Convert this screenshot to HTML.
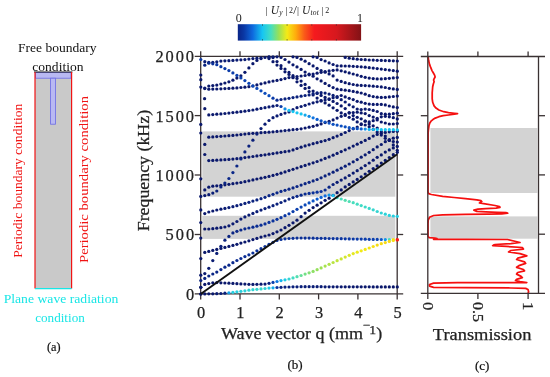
<!DOCTYPE html>
<html><head><meta charset="utf-8"><title>Figure</title>
<style>html,body{margin:0;padding:0;background:#fff}svg{display:block}</style></head>
<body>
<svg width="550" height="377" viewBox="0 0 550 377">
<defs><linearGradient id="cb" x1="0" x2="1" y1="0" y2="0"><stop offset="0%" stop-color="#0a2487"/><stop offset="5%" stop-color="#0a38a5"/><stop offset="12%" stop-color="#0e69de"/><stop offset="20%" stop-color="#16c6f2"/><stop offset="27%" stop-color="#46debe"/><stop offset="33%" stop-color="#96e05a"/><stop offset="40%" stop-color="#f4ea16"/><stop offset="47%" stop-color="#ffac0c"/><stop offset="54%" stop-color="#fa5a19"/><stop offset="62%" stop-color="#f51a1e"/><stop offset="80%" stop-color="#d7181e"/><stop offset="100%" stop-color="#821216"/></linearGradient></defs>
<rect width="550" height="377" fill="#fff"/>
<g font-family="'Liberation Serif', 'DejaVu Serif', serif">
<rect x="35" y="72" width="36.6" height="216.4" fill="#c9c9c9"/>
<rect x="35.6" y="72.6" width="35.4" height="5.6" fill="#b9b9f2" stroke="#6a6ae6" stroke-width="0.8"/>
<rect x="50.6" y="78.2" width="4.9" height="46" fill="#b9b9f2" stroke="#6a6ae6" stroke-width="0.8"/>
<line x1="34" y1="72" x2="72.4" y2="72" stroke="#111" stroke-width="1"/>
<line x1="35" y1="72" x2="35" y2="288.6" stroke="#f01414" stroke-width="1.2"/>
<line x1="71.6" y1="72" x2="71.6" y2="288.6" stroke="#f01414" stroke-width="1.2"/>
<line x1="35" y1="288.6" x2="71.6" y2="288.6" stroke="#19e6e6" stroke-width="1.2"/>
<text x="57.3" y="51.7" font-size="13.4" text-anchor="middle" fill="#111" textLength="78.7" lengthAdjust="spacingAndGlyphs">Free boundary</text>
<text x="57.9" y="71.4" font-size="13.4" text-anchor="middle" fill="#111" textLength="51.2" lengthAdjust="spacingAndGlyphs">condition</text>
<text transform="translate(21.6,180.8) rotate(-90)" font-size="12.2" text-anchor="middle" fill="#f01414" textLength="154" lengthAdjust="spacingAndGlyphs">Periodic boundary condition</text>
<text transform="translate(88.0,179.5) rotate(-90)" font-size="13" text-anchor="middle" fill="#f01414" textLength="167" lengthAdjust="spacingAndGlyphs">Periodic boundary condition</text>
<text x="61" y="302.9" font-size="13.4" text-anchor="middle" fill="#19e6e6" textLength="114.7" lengthAdjust="spacingAndGlyphs">Plane wave radiation</text>
<text x="60" y="321.8" font-size="13.4" text-anchor="middle" fill="#19e6e6" textLength="49.7" lengthAdjust="spacingAndGlyphs">condition</text>
<text x="46.9" y="351.4" font-size="12.5" fill="#111" stroke="#111" stroke-width="0.2" textLength="13.6" lengthAdjust="spacingAndGlyphs">(a)</text>
<text x="287.5" y="369.3" font-size="12.5" fill="#111" stroke="#111" stroke-width="0.2" textLength="15.2" lengthAdjust="spacingAndGlyphs">(b)</text>
<text x="475" y="369.7" font-size="12.5" fill="#111" stroke="#111" stroke-width="0.2" textLength="14.4" lengthAdjust="spacingAndGlyphs">(c)</text>
</g>
<rect x="237.8" y="24.2" width="123.3" height="16.4" fill="url(#cb)"/>
<line x1="262.5" y1="24.2" x2="262.5" y2="25.8" stroke="#333" stroke-width="0.6"/>
<line x1="262.5" y1="39" x2="262.5" y2="40.6" stroke="#333" stroke-width="0.6"/>
<line x1="287.1" y1="24.2" x2="287.1" y2="25.8" stroke="#333" stroke-width="0.6"/>
<line x1="287.1" y1="39" x2="287.1" y2="40.6" stroke="#333" stroke-width="0.6"/>
<line x1="311.8" y1="24.2" x2="311.8" y2="25.8" stroke="#333" stroke-width="0.6"/>
<line x1="311.8" y1="39" x2="311.8" y2="40.6" stroke="#333" stroke-width="0.6"/>
<line x1="336.4" y1="24.2" x2="336.4" y2="25.8" stroke="#333" stroke-width="0.6"/>
<line x1="336.4" y1="39" x2="336.4" y2="40.6" stroke="#333" stroke-width="0.6"/>
<g font-family="'Liberation Serif', serif" fill="#222">
<text x="238.7" y="21.7" font-size="12" text-anchor="middle">0</text>
<text x="359.9" y="22.1" font-size="12" text-anchor="middle">1</text>
<text x="265.8" y="13.9" font-size="10" textLength="63.4" lengthAdjust="spacing">| <tspan font-style="italic" font-size="11.5">U</tspan><tspan font-style="italic" font-size="7.5" dy="1.2">y</tspan><tspan dy="-1.2"> |</tspan><tspan font-size="8" dy="-1.3" dx="-1"> 2</tspan><tspan dy="1.7" font-size="13">/</tspan><tspan dy="-0.4">| </tspan><tspan font-style="italic" font-size="11.5">U</tspan><tspan font-style="italic" font-size="7.5" dy="1.2">tot</tspan><tspan dy="-1.2"> |</tspan><tspan font-size="8" dy="-1.3" dx="-1"> 2</tspan></text>
</g>
<rect x="202.3" y="131.4" width="193.0" height="65.3" fill="#d3d3d3"/>
<rect x="202.3" y="215.8" width="193.0" height="23.1" fill="#d3d3d3"/>
<g stroke="#3a3233" stroke-width="1.3" fill="none">
<line x1="200.7" y1="55.699999999999996" x2="200.7" y2="299.4"/>
<line x1="397.2" y1="51.3" x2="397.2" y2="299.4"/>
<line x1="194.7" y1="56.3" x2="403.2" y2="56.3"/>
<line x1="194.7" y1="293.9" x2="403.2" y2="293.9"/>
<line x1="240.0" y1="51.3" x2="240.0" y2="56.3"/>
<line x1="240.0" y1="293.9" x2="240.0" y2="299.4"/>
<line x1="279.3" y1="51.3" x2="279.3" y2="56.3"/>
<line x1="279.3" y1="293.9" x2="279.3" y2="299.4"/>
<line x1="318.6" y1="51.3" x2="318.6" y2="56.3"/>
<line x1="318.6" y1="293.9" x2="318.6" y2="299.4"/>
<line x1="357.9" y1="51.3" x2="357.9" y2="56.3"/>
<line x1="357.9" y1="293.9" x2="357.9" y2="299.4"/>
<line x1="200.7" y1="51.3" x2="200.7" y2="56.3"/>
<line x1="194.7" y1="234.5" x2="200.7" y2="234.5"/>
<line x1="397.2" y1="234.5" x2="403.2" y2="234.5"/>
<line x1="194.7" y1="175.0" x2="200.7" y2="175.0"/>
<line x1="397.2" y1="175.0" x2="403.2" y2="175.0"/>
<line x1="194.7" y1="115.6" x2="200.7" y2="115.6"/>
<line x1="397.2" y1="115.6" x2="403.2" y2="115.6"/>
</g>
<circle cx="200.8" cy="294.0" r="1.62" fill="#091668"/>
<circle cx="200.8" cy="287.3" r="1.62" fill="#091668"/>
<circle cx="397.3" cy="286.9" r="1.62" fill="#091668"/>
<circle cx="200.8" cy="294.0" r="1.62" fill="#091668"/>
<circle cx="204.8" cy="284.4" r="1.62" fill="#091669"/>
<circle cx="393.3" cy="286.9" r="1.62" fill="#091669"/>
<circle cx="208.8" cy="283.6" r="1.62" fill="#091769"/>
<circle cx="389.3" cy="286.9" r="1.62" fill="#091769"/>
<circle cx="385.3" cy="286.9" r="1.62" fill="#091769"/>
<circle cx="212.8" cy="282.8" r="1.62" fill="#091769"/>
<circle cx="381.3" cy="286.9" r="1.62" fill="#09176a"/>
<circle cx="216.8" cy="282.6" r="1.62" fill="#09176a"/>
<circle cx="204.8" cy="293.9" r="1.62" fill="#09176a"/>
<circle cx="377.2" cy="286.9" r="1.62" fill="#09176a"/>
<circle cx="220.9" cy="282.8" r="1.62" fill="#09176a"/>
<circle cx="373.2" cy="286.9" r="1.62" fill="#0a176b"/>
<circle cx="224.9" cy="283.0" r="1.62" fill="#0a176b"/>
<circle cx="369.2" cy="286.8" r="1.62" fill="#0a186b"/>
<circle cx="228.9" cy="283.2" r="1.62" fill="#0a186b"/>
<circle cx="365.2" cy="286.8" r="1.62" fill="#0a186b"/>
<circle cx="361.2" cy="286.8" r="1.62" fill="#0a186c"/>
<circle cx="232.9" cy="283.4" r="1.62" fill="#0a186c"/>
<circle cx="200.8" cy="258.6" r="1.62" fill="#0a186c"/>
<circle cx="204.8" cy="252.4" r="1.62" fill="#0a186c"/>
<circle cx="208.8" cy="251.4" r="1.62" fill="#0a186c"/>
<circle cx="212.8" cy="250.4" r="1.62" fill="#0a186c"/>
<circle cx="216.8" cy="249.4" r="1.62" fill="#0a186c"/>
<circle cx="220.9" cy="248.4" r="1.62" fill="#0a186c"/>
<circle cx="224.9" cy="247.4" r="1.62" fill="#0a186c"/>
<circle cx="228.9" cy="246.4" r="1.62" fill="#0a186c"/>
<circle cx="232.9" cy="245.4" r="1.62" fill="#0a186c"/>
<circle cx="236.9" cy="244.3" r="1.62" fill="#0a186c"/>
<circle cx="240.9" cy="243.1" r="1.62" fill="#0a186c"/>
<circle cx="244.9" cy="242.0" r="1.62" fill="#0a186c"/>
<circle cx="248.9" cy="240.8" r="1.62" fill="#0a186c"/>
<circle cx="252.9" cy="239.6" r="1.62" fill="#0a186c"/>
<circle cx="256.9" cy="238.4" r="1.62" fill="#0a186c"/>
<circle cx="261.0" cy="237.1" r="1.62" fill="#0a186c"/>
<circle cx="265.0" cy="236.0" r="1.62" fill="#0a186c"/>
<circle cx="269.0" cy="235.0" r="1.62" fill="#0a186c"/>
<circle cx="273.0" cy="233.6" r="1.62" fill="#0a186c"/>
<circle cx="277.0" cy="231.8" r="1.62" fill="#0a186c"/>
<circle cx="281.0" cy="230.0" r="1.62" fill="#0a186c"/>
<circle cx="285.0" cy="227.7" r="1.62" fill="#0a186c"/>
<circle cx="289.0" cy="225.3" r="1.62" fill="#0a186c"/>
<circle cx="293.0" cy="222.8" r="1.62" fill="#0a186c"/>
<circle cx="297.0" cy="220.2" r="1.62" fill="#0a186c"/>
<circle cx="301.1" cy="216.7" r="1.62" fill="#0a186c"/>
<circle cx="305.1" cy="213.1" r="1.62" fill="#0a186c"/>
<circle cx="309.1" cy="210.3" r="1.62" fill="#0a186c"/>
<circle cx="313.1" cy="207.6" r="1.62" fill="#0a186c"/>
<circle cx="317.1" cy="205.2" r="1.62" fill="#0a186c"/>
<circle cx="321.1" cy="202.8" r="1.62" fill="#0a186c"/>
<circle cx="325.1" cy="200.3" r="1.62" fill="#0a186c"/>
<circle cx="329.1" cy="198.2" r="1.62" fill="#0a186c"/>
<circle cx="333.1" cy="195.3" r="1.62" fill="#0a186c"/>
<circle cx="337.1" cy="192.7" r="1.62" fill="#0a186c"/>
<circle cx="341.2" cy="189.9" r="1.62" fill="#0a186c"/>
<circle cx="345.2" cy="186.9" r="1.62" fill="#0a186c"/>
<circle cx="349.2" cy="184.4" r="1.62" fill="#0a186c"/>
<circle cx="353.2" cy="181.9" r="1.62" fill="#0a186c"/>
<circle cx="357.2" cy="179.4" r="1.62" fill="#0a186c"/>
<circle cx="361.2" cy="176.8" r="1.62" fill="#0a186c"/>
<circle cx="365.2" cy="174.1" r="1.62" fill="#0a186c"/>
<circle cx="369.2" cy="171.3" r="1.62" fill="#0a186c"/>
<circle cx="373.2" cy="168.6" r="1.62" fill="#0a186c"/>
<circle cx="377.2" cy="165.9" r="1.62" fill="#0a186c"/>
<circle cx="381.3" cy="163.1" r="1.62" fill="#0a186c"/>
<circle cx="385.3" cy="160.4" r="1.62" fill="#0a186c"/>
<circle cx="389.3" cy="157.5" r="1.62" fill="#0a186c"/>
<circle cx="393.3" cy="154.7" r="1.62" fill="#0a186c"/>
<circle cx="397.3" cy="152.3" r="1.62" fill="#0a186c"/>
<circle cx="204.8" cy="189.9" r="1.62" fill="#0a186c"/>
<circle cx="208.8" cy="187.2" r="1.62" fill="#0a186c"/>
<circle cx="212.8" cy="186.2" r="1.62" fill="#0a186c"/>
<circle cx="216.8" cy="185.8" r="1.62" fill="#0a186c"/>
<circle cx="220.9" cy="185.3" r="1.62" fill="#0a186c"/>
<circle cx="224.9" cy="184.8" r="1.62" fill="#0a186c"/>
<circle cx="228.9" cy="184.3" r="1.62" fill="#0a186c"/>
<circle cx="232.9" cy="183.7" r="1.62" fill="#0a186c"/>
<circle cx="236.9" cy="183.1" r="1.62" fill="#0a186c"/>
<circle cx="240.9" cy="182.5" r="1.62" fill="#0a186c"/>
<circle cx="244.9" cy="181.7" r="1.62" fill="#0a186c"/>
<circle cx="248.9" cy="180.8" r="1.62" fill="#0a186c"/>
<circle cx="252.9" cy="179.9" r="1.62" fill="#0a186c"/>
<circle cx="256.9" cy="179.0" r="1.62" fill="#0a186c"/>
<circle cx="261.0" cy="178.2" r="1.62" fill="#0a186c"/>
<circle cx="265.0" cy="177.3" r="1.62" fill="#0a186c"/>
<circle cx="269.0" cy="176.4" r="1.62" fill="#0a186c"/>
<circle cx="273.0" cy="175.4" r="1.62" fill="#0a186c"/>
<circle cx="277.0" cy="174.3" r="1.62" fill="#0a186c"/>
<circle cx="281.0" cy="173.2" r="1.62" fill="#0a186c"/>
<circle cx="285.0" cy="171.9" r="1.62" fill="#0a186c"/>
<circle cx="289.0" cy="170.6" r="1.62" fill="#0a186c"/>
<circle cx="293.0" cy="169.3" r="1.62" fill="#0a186c"/>
<circle cx="297.0" cy="168.0" r="1.62" fill="#0a186c"/>
<circle cx="301.1" cy="166.7" r="1.62" fill="#0a186c"/>
<circle cx="305.1" cy="165.4" r="1.62" fill="#0a186c"/>
<circle cx="309.1" cy="164.1" r="1.62" fill="#0a186c"/>
<circle cx="313.1" cy="162.8" r="1.62" fill="#0a186c"/>
<circle cx="317.1" cy="161.5" r="1.62" fill="#0a186c"/>
<circle cx="321.1" cy="160.0" r="1.62" fill="#0a186c"/>
<circle cx="325.1" cy="158.4" r="1.62" fill="#0a186c"/>
<circle cx="329.1" cy="156.9" r="1.62" fill="#0a186c"/>
<circle cx="333.1" cy="155.2" r="1.62" fill="#0a186c"/>
<circle cx="337.1" cy="153.4" r="1.62" fill="#0a186c"/>
<circle cx="341.2" cy="151.6" r="1.62" fill="#0a186c"/>
<circle cx="345.2" cy="149.8" r="1.62" fill="#0a186c"/>
<circle cx="349.2" cy="148.0" r="1.62" fill="#0a186c"/>
<circle cx="353.2" cy="146.1" r="1.62" fill="#0a186c"/>
<circle cx="357.2" cy="144.2" r="1.62" fill="#0a186c"/>
<circle cx="361.2" cy="142.3" r="1.62" fill="#0a186c"/>
<circle cx="365.2" cy="140.4" r="1.62" fill="#0a186c"/>
<circle cx="369.2" cy="138.4" r="1.62" fill="#0a186c"/>
<circle cx="373.2" cy="136.1" r="1.62" fill="#0a186c"/>
<circle cx="377.2" cy="134.4" r="1.62" fill="#0a186c"/>
<circle cx="381.3" cy="133.3" r="1.62" fill="#0a186c"/>
<circle cx="385.3" cy="132.4" r="1.62" fill="#0a186c"/>
<circle cx="389.3" cy="131.8" r="1.62" fill="#0a186c"/>
<circle cx="393.3" cy="131.5" r="1.62" fill="#0a186c"/>
<circle cx="397.3" cy="131.3" r="1.62" fill="#0a186c"/>
<circle cx="204.8" cy="154.5" r="1.62" fill="#0a186c"/>
<circle cx="208.8" cy="160.6" r="1.62" fill="#0a186c"/>
<circle cx="212.8" cy="160.4" r="1.62" fill="#0a186c"/>
<circle cx="216.8" cy="160.2" r="1.62" fill="#0a186c"/>
<circle cx="220.9" cy="159.9" r="1.62" fill="#0a186c"/>
<circle cx="224.9" cy="159.7" r="1.62" fill="#0a186c"/>
<circle cx="228.9" cy="159.4" r="1.62" fill="#0a186c"/>
<circle cx="232.9" cy="159.1" r="1.62" fill="#0a186c"/>
<circle cx="236.9" cy="158.7" r="1.62" fill="#0a186c"/>
<circle cx="240.9" cy="158.1" r="1.62" fill="#0a186c"/>
<circle cx="244.9" cy="157.6" r="1.62" fill="#0a186c"/>
<circle cx="248.9" cy="157.1" r="1.62" fill="#0a186c"/>
<circle cx="252.9" cy="156.5" r="1.62" fill="#0a186c"/>
<circle cx="256.9" cy="155.9" r="1.62" fill="#0a186c"/>
<circle cx="261.0" cy="155.3" r="1.62" fill="#0a186c"/>
<circle cx="265.0" cy="154.8" r="1.62" fill="#0a186c"/>
<circle cx="269.0" cy="154.2" r="1.62" fill="#0a186c"/>
<circle cx="273.0" cy="153.6" r="1.62" fill="#0a186c"/>
<circle cx="277.0" cy="152.9" r="1.62" fill="#0a186c"/>
<circle cx="281.0" cy="152.3" r="1.62" fill="#0a186c"/>
<circle cx="285.0" cy="151.7" r="1.62" fill="#0a186c"/>
<circle cx="289.0" cy="151.1" r="1.62" fill="#0a186c"/>
<circle cx="293.0" cy="149.9" r="1.62" fill="#0a186c"/>
<circle cx="297.0" cy="148.5" r="1.62" fill="#0a186c"/>
<circle cx="301.1" cy="147.2" r="1.62" fill="#0a186c"/>
<circle cx="305.1" cy="145.9" r="1.62" fill="#0a186c"/>
<circle cx="309.1" cy="144.8" r="1.62" fill="#0a186c"/>
<circle cx="313.1" cy="143.7" r="1.62" fill="#0a186c"/>
<circle cx="317.1" cy="142.7" r="1.62" fill="#0a186c"/>
<circle cx="321.1" cy="141.6" r="1.62" fill="#0a186c"/>
<circle cx="325.1" cy="140.6" r="1.62" fill="#0a186c"/>
<circle cx="329.1" cy="139.3" r="1.62" fill="#0a186c"/>
<circle cx="333.1" cy="137.7" r="1.62" fill="#0a186c"/>
<circle cx="337.1" cy="136.1" r="1.62" fill="#0a186c"/>
<circle cx="341.2" cy="134.4" r="1.62" fill="#0a186c"/>
<circle cx="345.2" cy="132.5" r="1.62" fill="#0a186c"/>
<circle cx="349.2" cy="130.6" r="1.62" fill="#0a186c"/>
<circle cx="353.2" cy="128.8" r="1.62" fill="#0a186c"/>
<circle cx="357.2" cy="127.0" r="1.62" fill="#0a186c"/>
<circle cx="361.2" cy="124.6" r="1.62" fill="#0a186c"/>
<circle cx="365.2" cy="121.2" r="1.62" fill="#0a186c"/>
<circle cx="369.2" cy="121.9" r="1.62" fill="#0a186c"/>
<circle cx="373.2" cy="120.7" r="1.62" fill="#0a186c"/>
<circle cx="377.2" cy="119.9" r="1.62" fill="#0a186c"/>
<circle cx="381.3" cy="122.0" r="1.62" fill="#0a186c"/>
<circle cx="385.3" cy="123.0" r="1.62" fill="#0a186c"/>
<circle cx="389.3" cy="124.0" r="1.62" fill="#0a186c"/>
<circle cx="393.3" cy="124.0" r="1.62" fill="#0a186c"/>
<circle cx="397.3" cy="123.5" r="1.62" fill="#0a186c"/>
<circle cx="204.8" cy="144.4" r="1.62" fill="#0a186c"/>
<circle cx="208.8" cy="137.2" r="1.62" fill="#0a186c"/>
<circle cx="212.8" cy="136.9" r="1.62" fill="#0a186c"/>
<circle cx="216.8" cy="136.6" r="1.62" fill="#0a186c"/>
<circle cx="220.9" cy="136.3" r="1.62" fill="#0a186c"/>
<circle cx="224.9" cy="136.0" r="1.62" fill="#0a186c"/>
<circle cx="228.9" cy="135.7" r="1.62" fill="#0a186c"/>
<circle cx="232.9" cy="135.4" r="1.62" fill="#0a186c"/>
<circle cx="236.9" cy="135.0" r="1.62" fill="#0a186c"/>
<circle cx="240.9" cy="134.6" r="1.62" fill="#0a186c"/>
<circle cx="244.9" cy="134.1" r="1.62" fill="#0a186c"/>
<circle cx="248.9" cy="133.7" r="1.62" fill="#0a186c"/>
<circle cx="252.9" cy="133.3" r="1.62" fill="#0a186c"/>
<circle cx="256.9" cy="133.0" r="1.62" fill="#0a186c"/>
<circle cx="261.0" cy="132.7" r="1.62" fill="#0a186c"/>
<circle cx="265.0" cy="132.4" r="1.62" fill="#0a186c"/>
<circle cx="269.0" cy="132.2" r="1.62" fill="#0a186c"/>
<circle cx="273.0" cy="131.8" r="1.62" fill="#0a186c"/>
<circle cx="277.0" cy="131.4" r="1.62" fill="#0a186c"/>
<circle cx="281.0" cy="131.0" r="1.62" fill="#0a186c"/>
<circle cx="285.0" cy="130.6" r="1.62" fill="#0a186c"/>
<circle cx="289.0" cy="130.2" r="1.62" fill="#0a186c"/>
<circle cx="293.0" cy="129.7" r="1.62" fill="#0a186c"/>
<circle cx="297.0" cy="129.3" r="1.62" fill="#0a186c"/>
<circle cx="301.1" cy="128.8" r="1.62" fill="#0a186c"/>
<circle cx="305.1" cy="128.0" r="1.62" fill="#0a186c"/>
<circle cx="309.1" cy="127.2" r="1.62" fill="#0a186c"/>
<circle cx="313.1" cy="126.3" r="1.62" fill="#0a186c"/>
<circle cx="317.1" cy="125.2" r="1.62" fill="#0a186c"/>
<circle cx="321.1" cy="123.9" r="1.62" fill="#0a186c"/>
<circle cx="325.1" cy="122.6" r="1.62" fill="#0a186c"/>
<circle cx="329.1" cy="121.3" r="1.62" fill="#0a186c"/>
<circle cx="333.1" cy="119.9" r="1.62" fill="#0a186c"/>
<circle cx="337.1" cy="118.1" r="1.62" fill="#0a186c"/>
<circle cx="341.2" cy="116.3" r="1.62" fill="#0a186c"/>
<circle cx="345.2" cy="114.4" r="1.62" fill="#0a186c"/>
<circle cx="349.2" cy="112.5" r="1.62" fill="#0a186c"/>
<circle cx="353.2" cy="112.6" r="1.62" fill="#0a186c"/>
<circle cx="357.2" cy="112.2" r="1.62" fill="#0a186c"/>
<circle cx="361.2" cy="112.9" r="1.62" fill="#0a186c"/>
<circle cx="365.2" cy="113.6" r="1.62" fill="#0a186c"/>
<circle cx="369.2" cy="115.6" r="1.62" fill="#0a186c"/>
<circle cx="373.2" cy="117.1" r="1.62" fill="#0a186c"/>
<circle cx="377.2" cy="118.3" r="1.62" fill="#0a186c"/>
<circle cx="381.3" cy="116.8" r="1.62" fill="#0a186c"/>
<circle cx="385.3" cy="116.3" r="1.62" fill="#0a186c"/>
<circle cx="389.3" cy="116.8" r="1.62" fill="#0a186c"/>
<circle cx="393.3" cy="117.7" r="1.62" fill="#0a186c"/>
<circle cx="397.3" cy="118.9" r="1.62" fill="#0a186c"/>
<circle cx="200.8" cy="87.1" r="1.62" fill="#0a186c"/>
<circle cx="204.8" cy="88.0" r="1.62" fill="#0a186c"/>
<circle cx="208.8" cy="86.0" r="1.62" fill="#0a186c"/>
<circle cx="212.8" cy="85.6" r="1.62" fill="#0a186c"/>
<circle cx="216.8" cy="85.1" r="1.62" fill="#0a186c"/>
<circle cx="220.9" cy="84.1" r="1.62" fill="#0a186c"/>
<circle cx="224.9" cy="83.0" r="1.62" fill="#0a186c"/>
<circle cx="228.9" cy="81.8" r="1.62" fill="#0a186c"/>
<circle cx="232.9" cy="80.2" r="1.62" fill="#0a186c"/>
<circle cx="236.9" cy="78.1" r="1.62" fill="#0a186c"/>
<circle cx="240.9" cy="75.8" r="1.62" fill="#0a186c"/>
<circle cx="244.9" cy="72.3" r="1.62" fill="#0a186c"/>
<circle cx="248.9" cy="67.9" r="1.62" fill="#0a186c"/>
<circle cx="252.9" cy="63.7" r="1.62" fill="#0a186c"/>
<circle cx="256.9" cy="60.4" r="1.62" fill="#0a186c"/>
<circle cx="261.0" cy="58.6" r="1.62" fill="#0a186c"/>
<circle cx="204.8" cy="88.6" r="1.62" fill="#0a186c"/>
<circle cx="208.8" cy="89.2" r="1.62" fill="#0a186c"/>
<circle cx="212.8" cy="89.1" r="1.62" fill="#0a186c"/>
<circle cx="216.8" cy="89.0" r="1.62" fill="#0a186c"/>
<circle cx="220.9" cy="88.8" r="1.62" fill="#0a186c"/>
<circle cx="224.9" cy="88.6" r="1.62" fill="#0a186c"/>
<circle cx="228.9" cy="88.4" r="1.62" fill="#0a186c"/>
<circle cx="232.9" cy="88.2" r="1.62" fill="#0a186c"/>
<circle cx="236.9" cy="87.9" r="1.62" fill="#0a186c"/>
<circle cx="240.9" cy="87.5" r="1.62" fill="#0a186c"/>
<circle cx="244.9" cy="87.2" r="1.62" fill="#0a186c"/>
<circle cx="248.9" cy="86.7" r="1.62" fill="#0a186c"/>
<circle cx="252.9" cy="86.0" r="1.62" fill="#0a186c"/>
<circle cx="256.9" cy="84.9" r="1.62" fill="#0a186c"/>
<circle cx="261.0" cy="83.8" r="1.62" fill="#0a186c"/>
<circle cx="265.0" cy="82.9" r="1.62" fill="#0a186c"/>
<circle cx="269.0" cy="81.9" r="1.62" fill="#0a186c"/>
<circle cx="273.0" cy="81.1" r="1.62" fill="#0a186c"/>
<circle cx="277.0" cy="80.4" r="1.62" fill="#0a186c"/>
<circle cx="281.0" cy="79.6" r="1.62" fill="#0a186c"/>
<circle cx="285.0" cy="78.6" r="1.62" fill="#0a186c"/>
<circle cx="289.0" cy="77.6" r="1.62" fill="#0a186c"/>
<circle cx="293.0" cy="77.1" r="1.62" fill="#0a186c"/>
<circle cx="297.0" cy="76.6" r="1.62" fill="#0a186c"/>
<circle cx="301.1" cy="76.0" r="1.62" fill="#0a186c"/>
<circle cx="305.1" cy="75.5" r="1.62" fill="#0a186c"/>
<circle cx="309.1" cy="74.8" r="1.62" fill="#0a186c"/>
<circle cx="313.1" cy="74.0" r="1.62" fill="#0a186c"/>
<circle cx="317.1" cy="73.2" r="1.62" fill="#0a186c"/>
<circle cx="321.1" cy="72.3" r="1.62" fill="#0a186c"/>
<circle cx="325.1" cy="71.6" r="1.62" fill="#0a186c"/>
<circle cx="329.1" cy="70.9" r="1.62" fill="#0a186c"/>
<circle cx="333.1" cy="70.3" r="1.62" fill="#0a186c"/>
<circle cx="337.1" cy="69.9" r="1.62" fill="#0a186c"/>
<circle cx="341.2" cy="70.8" r="1.62" fill="#0a186c"/>
<circle cx="345.2" cy="71.8" r="1.62" fill="#0a186c"/>
<circle cx="349.2" cy="72.9" r="1.62" fill="#0a186c"/>
<circle cx="353.2" cy="74.0" r="1.62" fill="#0a186c"/>
<circle cx="357.2" cy="75.1" r="1.62" fill="#0a186c"/>
<circle cx="361.2" cy="76.3" r="1.62" fill="#0a186c"/>
<circle cx="365.2" cy="77.3" r="1.62" fill="#0a186c"/>
<circle cx="369.2" cy="78.1" r="1.62" fill="#0a186c"/>
<circle cx="373.2" cy="78.6" r="1.62" fill="#0a186c"/>
<circle cx="377.2" cy="78.9" r="1.62" fill="#0a186c"/>
<circle cx="381.3" cy="78.9" r="1.62" fill="#0a186c"/>
<circle cx="385.3" cy="78.7" r="1.62" fill="#0a186c"/>
<circle cx="389.3" cy="78.3" r="1.62" fill="#0a186c"/>
<circle cx="393.3" cy="77.9" r="1.62" fill="#0a186c"/>
<circle cx="397.3" cy="77.5" r="1.62" fill="#0a186c"/>
<circle cx="269.0" cy="56.8" r="1.62" fill="#0a186c"/>
<circle cx="273.0" cy="57.6" r="1.62" fill="#0a186c"/>
<circle cx="277.0" cy="61.6" r="1.62" fill="#0a186c"/>
<circle cx="281.0" cy="65.7" r="1.62" fill="#0a186c"/>
<circle cx="285.0" cy="69.0" r="1.62" fill="#0a186c"/>
<circle cx="289.0" cy="72.4" r="1.62" fill="#0a186c"/>
<circle cx="293.0" cy="75.7" r="1.62" fill="#0a186c"/>
<circle cx="297.0" cy="78.5" r="1.62" fill="#0a186c"/>
<circle cx="301.1" cy="81.1" r="1.62" fill="#0a186c"/>
<circle cx="305.1" cy="84.4" r="1.62" fill="#0a186c"/>
<circle cx="309.1" cy="87.7" r="1.62" fill="#0a186c"/>
<circle cx="313.1" cy="91.0" r="1.62" fill="#0a186c"/>
<circle cx="317.1" cy="93.4" r="1.62" fill="#0a186c"/>
<circle cx="321.1" cy="95.4" r="1.62" fill="#0a186c"/>
<circle cx="325.1" cy="97.4" r="1.62" fill="#0a186c"/>
<circle cx="329.1" cy="99.5" r="1.62" fill="#0a186c"/>
<circle cx="333.1" cy="101.4" r="1.62" fill="#0a186c"/>
<circle cx="337.1" cy="103.5" r="1.62" fill="#0a186c"/>
<circle cx="341.2" cy="105.9" r="1.62" fill="#0a186c"/>
<circle cx="345.2" cy="108.6" r="1.62" fill="#0a186c"/>
<circle cx="349.2" cy="113.1" r="1.62" fill="#0a186c"/>
<circle cx="353.2" cy="115.6" r="1.62" fill="#0a186c"/>
<circle cx="357.2" cy="117.3" r="1.62" fill="#0a186c"/>
<circle cx="361.2" cy="118.8" r="1.62" fill="#0a186c"/>
<circle cx="365.2" cy="121.1" r="1.62" fill="#0a186c"/>
<circle cx="369.2" cy="124.1" r="1.62" fill="#0a186c"/>
<circle cx="373.2" cy="125.8" r="1.62" fill="#0a186c"/>
<circle cx="377.2" cy="128.1" r="1.62" fill="#0a186c"/>
<circle cx="381.3" cy="131.7" r="1.62" fill="#0a186c"/>
<circle cx="385.3" cy="136.0" r="1.62" fill="#0a186c"/>
<circle cx="389.3" cy="140.3" r="1.62" fill="#0a186c"/>
<circle cx="393.3" cy="144.9" r="1.62" fill="#0a186c"/>
<circle cx="397.3" cy="150.3" r="1.62" fill="#0a186c"/>
<circle cx="269.0" cy="58.6" r="1.62" fill="#0a186c"/>
<circle cx="273.0" cy="61.7" r="1.62" fill="#0a186c"/>
<circle cx="277.0" cy="65.1" r="1.62" fill="#0a186c"/>
<circle cx="281.0" cy="68.4" r="1.62" fill="#0a186c"/>
<circle cx="285.0" cy="71.8" r="1.62" fill="#0a186c"/>
<circle cx="289.0" cy="74.5" r="1.62" fill="#0a186c"/>
<circle cx="293.0" cy="77.7" r="1.62" fill="#0a186c"/>
<circle cx="297.0" cy="81.8" r="1.62" fill="#0a186c"/>
<circle cx="301.1" cy="85.4" r="1.62" fill="#0a186c"/>
<circle cx="305.1" cy="88.4" r="1.62" fill="#0a186c"/>
<circle cx="309.1" cy="91.6" r="1.62" fill="#0a186c"/>
<circle cx="313.1" cy="95.0" r="1.62" fill="#0a186c"/>
<circle cx="317.1" cy="98.1" r="1.62" fill="#0a186c"/>
<circle cx="321.1" cy="100.7" r="1.62" fill="#0a186c"/>
<circle cx="325.1" cy="102.9" r="1.62" fill="#0a186c"/>
<circle cx="329.1" cy="105.2" r="1.62" fill="#0a186c"/>
<circle cx="333.1" cy="107.8" r="1.62" fill="#0a186c"/>
<circle cx="337.1" cy="110.3" r="1.62" fill="#0a186c"/>
<circle cx="341.2" cy="112.9" r="1.62" fill="#0a186c"/>
<circle cx="345.2" cy="115.5" r="1.62" fill="#0a186c"/>
<circle cx="349.2" cy="117.3" r="1.62" fill="#0a186c"/>
<circle cx="353.2" cy="119.2" r="1.62" fill="#0a186c"/>
<circle cx="357.2" cy="121.9" r="1.62" fill="#0a186c"/>
<circle cx="361.2" cy="123.9" r="1.62" fill="#0a186c"/>
<circle cx="365.2" cy="125.0" r="1.62" fill="#0a186c"/>
<circle cx="369.2" cy="126.8" r="1.62" fill="#0a186c"/>
<circle cx="373.2" cy="129.4" r="1.62" fill="#0a186c"/>
<circle cx="377.2" cy="132.0" r="1.62" fill="#0a186c"/>
<circle cx="381.3" cy="135.1" r="1.62" fill="#0a186c"/>
<circle cx="385.3" cy="138.3" r="1.62" fill="#0a186c"/>
<circle cx="389.3" cy="140.4" r="1.62" fill="#0a186c"/>
<circle cx="393.3" cy="141.5" r="1.62" fill="#0a186c"/>
<circle cx="397.3" cy="142.0" r="1.62" fill="#0a186c"/>
<circle cx="277.0" cy="56.8" r="1.62" fill="#0a186c"/>
<circle cx="281.0" cy="57.5" r="1.62" fill="#0a186c"/>
<circle cx="285.0" cy="59.5" r="1.62" fill="#0a186c"/>
<circle cx="289.0" cy="62.1" r="1.62" fill="#0a186c"/>
<circle cx="293.0" cy="64.8" r="1.62" fill="#0a186c"/>
<circle cx="297.0" cy="66.9" r="1.62" fill="#0a186c"/>
<circle cx="301.1" cy="69.4" r="1.62" fill="#0a186c"/>
<circle cx="305.1" cy="72.1" r="1.62" fill="#0a186c"/>
<circle cx="309.1" cy="74.2" r="1.62" fill="#0a186c"/>
<circle cx="313.1" cy="76.2" r="1.62" fill="#0a186c"/>
<circle cx="317.1" cy="78.8" r="1.62" fill="#0a186c"/>
<circle cx="321.1" cy="80.9" r="1.62" fill="#0a186c"/>
<circle cx="325.1" cy="83.4" r="1.62" fill="#0a186c"/>
<circle cx="329.1" cy="85.6" r="1.62" fill="#0a186c"/>
<circle cx="333.1" cy="87.6" r="1.62" fill="#0a186c"/>
<circle cx="337.1" cy="89.2" r="1.62" fill="#0a186c"/>
<circle cx="341.2" cy="89.7" r="1.62" fill="#0a186c"/>
<circle cx="345.2" cy="90.2" r="1.62" fill="#0a186c"/>
<circle cx="349.2" cy="90.7" r="1.62" fill="#0a186c"/>
<circle cx="353.2" cy="91.4" r="1.62" fill="#0a186c"/>
<circle cx="357.2" cy="92.2" r="1.62" fill="#0a186c"/>
<circle cx="361.2" cy="93.0" r="1.62" fill="#0a186c"/>
<circle cx="365.2" cy="94.2" r="1.62" fill="#0a186c"/>
<circle cx="369.2" cy="95.7" r="1.62" fill="#0a186c"/>
<circle cx="373.2" cy="96.6" r="1.62" fill="#0a186c"/>
<circle cx="377.2" cy="97.2" r="1.62" fill="#0a186c"/>
<circle cx="381.3" cy="97.4" r="1.62" fill="#0a186c"/>
<circle cx="385.3" cy="97.3" r="1.62" fill="#0a186c"/>
<circle cx="389.3" cy="96.9" r="1.62" fill="#0a186c"/>
<circle cx="393.3" cy="96.5" r="1.62" fill="#0a186c"/>
<circle cx="397.3" cy="96.1" r="1.62" fill="#0a186c"/>
<circle cx="293.0" cy="56.8" r="1.62" fill="#0a186c"/>
<circle cx="297.0" cy="57.4" r="1.62" fill="#0a186c"/>
<circle cx="301.1" cy="59.2" r="1.62" fill="#0a186c"/>
<circle cx="305.1" cy="61.2" r="1.62" fill="#0a186c"/>
<circle cx="309.1" cy="63.7" r="1.62" fill="#0a186c"/>
<circle cx="313.1" cy="65.9" r="1.62" fill="#0a186c"/>
<circle cx="317.1" cy="68.4" r="1.62" fill="#0a186c"/>
<circle cx="321.1" cy="70.6" r="1.62" fill="#0a186c"/>
<circle cx="325.1" cy="72.2" r="1.62" fill="#0a186c"/>
<circle cx="329.1" cy="73.9" r="1.62" fill="#0a186c"/>
<circle cx="333.1" cy="75.9" r="1.62" fill="#0a186c"/>
<circle cx="337.1" cy="80.1" r="1.62" fill="#0a186c"/>
<circle cx="341.2" cy="81.4" r="1.62" fill="#0a186c"/>
<circle cx="345.2" cy="82.7" r="1.62" fill="#0a186c"/>
<circle cx="349.2" cy="83.7" r="1.62" fill="#0a186c"/>
<circle cx="353.2" cy="84.5" r="1.62" fill="#0a186c"/>
<circle cx="357.2" cy="85.2" r="1.62" fill="#0a186c"/>
<circle cx="361.2" cy="85.4" r="1.62" fill="#0a186c"/>
<circle cx="365.2" cy="85.6" r="1.62" fill="#0a186c"/>
<circle cx="369.2" cy="85.8" r="1.62" fill="#0a186c"/>
<circle cx="373.2" cy="86.2" r="1.62" fill="#0a186c"/>
<circle cx="377.2" cy="86.5" r="1.62" fill="#0a186c"/>
<circle cx="381.3" cy="86.9" r="1.62" fill="#0a186c"/>
<circle cx="385.3" cy="87.5" r="1.62" fill="#0a186c"/>
<circle cx="389.3" cy="88.3" r="1.62" fill="#0a186c"/>
<circle cx="393.3" cy="88.9" r="1.62" fill="#0a186c"/>
<circle cx="397.3" cy="89.4" r="1.62" fill="#0a186c"/>
<circle cx="313.1" cy="56.8" r="1.62" fill="#0a186c"/>
<circle cx="317.1" cy="57.5" r="1.62" fill="#0a186c"/>
<circle cx="321.1" cy="59.6" r="1.62" fill="#0a186c"/>
<circle cx="325.1" cy="61.0" r="1.62" fill="#0a186c"/>
<circle cx="329.1" cy="62.9" r="1.62" fill="#0a186c"/>
<circle cx="333.1" cy="64.5" r="1.62" fill="#0a186c"/>
<circle cx="337.1" cy="65.8" r="1.62" fill="#0a186c"/>
<circle cx="341.2" cy="65.9" r="1.62" fill="#0a186c"/>
<circle cx="345.2" cy="66.0" r="1.62" fill="#0a186c"/>
<circle cx="349.2" cy="66.1" r="1.62" fill="#0a186c"/>
<circle cx="353.2" cy="66.3" r="1.62" fill="#0a186c"/>
<circle cx="357.2" cy="66.6" r="1.62" fill="#0a186c"/>
<circle cx="361.2" cy="66.8" r="1.62" fill="#0a186c"/>
<circle cx="365.2" cy="67.2" r="1.62" fill="#0a186c"/>
<circle cx="369.2" cy="67.7" r="1.62" fill="#0a186c"/>
<circle cx="373.2" cy="68.1" r="1.62" fill="#0a186c"/>
<circle cx="377.2" cy="68.6" r="1.62" fill="#0a186c"/>
<circle cx="381.3" cy="69.1" r="1.62" fill="#0a186c"/>
<circle cx="385.3" cy="69.6" r="1.62" fill="#0a186c"/>
<circle cx="389.3" cy="70.1" r="1.62" fill="#0a186c"/>
<circle cx="393.3" cy="70.6" r="1.62" fill="#0a186c"/>
<circle cx="397.3" cy="71.2" r="1.62" fill="#0a186c"/>
<circle cx="345.2" cy="57.4" r="1.62" fill="#0a186c"/>
<circle cx="349.2" cy="58.2" r="1.62" fill="#0a186c"/>
<circle cx="353.2" cy="58.7" r="1.62" fill="#0a186c"/>
<circle cx="357.2" cy="59.2" r="1.62" fill="#0a186c"/>
<circle cx="361.2" cy="59.5" r="1.62" fill="#0a186c"/>
<circle cx="365.2" cy="59.7" r="1.62" fill="#0a186c"/>
<circle cx="369.2" cy="60.0" r="1.62" fill="#0a186c"/>
<circle cx="373.2" cy="60.1" r="1.62" fill="#0a186c"/>
<circle cx="377.2" cy="60.3" r="1.62" fill="#0a186c"/>
<circle cx="381.3" cy="60.4" r="1.62" fill="#0a186c"/>
<circle cx="385.3" cy="60.6" r="1.62" fill="#0a186c"/>
<circle cx="389.3" cy="60.7" r="1.62" fill="#0a186c"/>
<circle cx="393.3" cy="60.8" r="1.62" fill="#0a186c"/>
<circle cx="397.3" cy="61.0" r="1.62" fill="#0a186c"/>
<circle cx="200.8" cy="287.3" r="1.62" fill="#0a186c"/>
<circle cx="200.8" cy="222.6" r="1.62" fill="#0a186c"/>
<circle cx="200.8" cy="178.8" r="1.62" fill="#0a186c"/>
<circle cx="200.8" cy="124.4" r="1.62" fill="#0a186c"/>
<circle cx="200.8" cy="133.0" r="1.62" fill="#0a186c"/>
<circle cx="200.8" cy="75.0" r="1.62" fill="#0a186c"/>
<circle cx="200.8" cy="79.7" r="1.62" fill="#0a186c"/>
<circle cx="204.6" cy="98.7" r="1.62" fill="#0a186c"/>
<circle cx="397.3" cy="107.5" r="1.62" fill="#0a186c"/>
<circle cx="208.8" cy="293.8" r="1.62" fill="#0a186c"/>
<circle cx="397.3" cy="146.4" r="1.62" fill="#0a186c"/>
<circle cx="397.3" cy="113.2" r="1.62" fill="#0a186c"/>
<circle cx="200.8" cy="238.1" r="1.62" fill="#0a186c"/>
<circle cx="397.3" cy="137.4" r="1.62" fill="#0a186c"/>
<circle cx="200.8" cy="209.9" r="1.62" fill="#0a186c"/>
<circle cx="393.3" cy="106.9" r="1.62" fill="#0a186c"/>
<circle cx="200.8" cy="275.2" r="1.62" fill="#0a186c"/>
<circle cx="357.2" cy="286.8" r="1.62" fill="#0a186c"/>
<circle cx="204.8" cy="108.7" r="1.62" fill="#0a186c"/>
<circle cx="389.3" cy="106.0" r="1.62" fill="#0a186c"/>
<circle cx="200.8" cy="196.4" r="1.62" fill="#0a186c"/>
<circle cx="393.3" cy="147.9" r="1.62" fill="#0a186c"/>
<circle cx="393.3" cy="113.7" r="1.62" fill="#0a186c"/>
<circle cx="236.9" cy="283.7" r="1.62" fill="#0a186c"/>
<circle cx="385.3" cy="104.9" r="1.62" fill="#0a186c"/>
<circle cx="204.8" cy="229.0" r="1.62" fill="#0a186c"/>
<circle cx="208.8" cy="114.9" r="1.62" fill="#0a186c"/>
<circle cx="381.3" cy="104.4" r="1.62" fill="#0a186c"/>
<circle cx="393.3" cy="138.2" r="1.62" fill="#0a186c"/>
<circle cx="389.3" cy="149.9" r="1.62" fill="#0a186d"/>
<circle cx="389.3" cy="114.2" r="1.62" fill="#0a186d"/>
<circle cx="377.2" cy="104.4" r="1.62" fill="#0a186d"/>
<circle cx="353.2" cy="286.8" r="1.62" fill="#0a186d"/>
<circle cx="212.8" cy="114.6" r="1.62" fill="#0a186d"/>
<circle cx="204.8" cy="213.6" r="1.62" fill="#0a186d"/>
<circle cx="373.2" cy="104.4" r="1.62" fill="#0a186d"/>
<circle cx="208.8" cy="229.0" r="1.62" fill="#0a186d"/>
<circle cx="240.9" cy="283.9" r="1.62" fill="#0a186d"/>
<circle cx="385.3" cy="152.1" r="1.62" fill="#0a186d"/>
<circle cx="369.2" cy="104.1" r="1.62" fill="#0a186d"/>
<circle cx="216.8" cy="114.2" r="1.62" fill="#0a186d"/>
<circle cx="385.3" cy="114.2" r="1.62" fill="#0a186d"/>
<circle cx="389.3" cy="139.6" r="1.62" fill="#0a186d"/>
<circle cx="365.2" cy="103.3" r="1.62" fill="#0a186d"/>
<circle cx="349.2" cy="286.8" r="1.62" fill="#0a196d"/>
<circle cx="220.9" cy="113.9" r="1.62" fill="#0a196d"/>
<circle cx="381.3" cy="154.9" r="1.62" fill="#0a196d"/>
<circle cx="361.2" cy="102.2" r="1.62" fill="#0a196d"/>
<circle cx="212.8" cy="228.7" r="1.62" fill="#0a196d"/>
<circle cx="381.3" cy="113.7" r="1.62" fill="#0a196d"/>
<circle cx="357.2" cy="101.3" r="1.62" fill="#0a196d"/>
<circle cx="224.9" cy="113.5" r="1.62" fill="#0a196d"/>
<circle cx="244.9" cy="284.1" r="1.62" fill="#0a196d"/>
<circle cx="353.2" cy="99.6" r="1.62" fill="#0a196d"/>
<circle cx="208.8" cy="212.0" r="1.62" fill="#0a196d"/>
<circle cx="385.3" cy="141.7" r="1.62" fill="#0a196d"/>
<circle cx="377.2" cy="157.3" r="1.62" fill="#0a196d"/>
<circle cx="345.2" cy="286.8" r="1.62" fill="#0a196d"/>
<circle cx="204.8" cy="273.6" r="1.62" fill="#0a196d"/>
<circle cx="377.2" cy="111.5" r="1.62" fill="#0a196d"/>
<circle cx="349.2" cy="98.3" r="1.62" fill="#0a196d"/>
<circle cx="228.9" cy="113.1" r="1.62" fill="#0a196d"/>
<circle cx="216.8" cy="228.2" r="1.62" fill="#0a196d"/>
<circle cx="345.2" cy="96.9" r="1.62" fill="#0a196e"/>
<circle cx="373.2" cy="160.2" r="1.62" fill="#0a196e"/>
<circle cx="341.2" cy="95.5" r="1.62" fill="#0a196e"/>
<circle cx="232.9" cy="112.6" r="1.62" fill="#0a196e"/>
<circle cx="373.2" cy="110.4" r="1.62" fill="#0a196e"/>
<circle cx="381.3" cy="144.5" r="1.62" fill="#0a196e"/>
<circle cx="248.9" cy="284.3" r="1.62" fill="#0a196e"/>
<circle cx="337.1" cy="96.6" r="1.62" fill="#0a196e"/>
<circle cx="341.2" cy="286.8" r="1.62" fill="#0a196e"/>
<circle cx="369.2" cy="163.0" r="1.62" fill="#0a196e"/>
<circle cx="220.9" cy="227.7" r="1.62" fill="#0a196e"/>
<circle cx="212.8" cy="293.8" r="1.62" fill="#0a196e"/>
<circle cx="333.1" cy="97.7" r="1.62" fill="#0a196e"/>
<circle cx="204.8" cy="195.6" r="1.62" fill="#0a196e"/>
<circle cx="236.9" cy="112.2" r="1.62" fill="#0a196e"/>
<circle cx="212.8" cy="211.0" r="1.62" fill="#0a196e"/>
<circle cx="369.2" cy="109.5" r="1.62" fill="#0a196e"/>
<circle cx="329.1" cy="98.8" r="1.62" fill="#0a196e"/>
<circle cx="365.2" cy="165.6" r="1.62" fill="#0a196e"/>
<circle cx="240.9" cy="111.7" r="1.62" fill="#0a196e"/>
<circle cx="325.1" cy="99.9" r="1.62" fill="#0a196e"/>
<circle cx="377.2" cy="146.9" r="1.62" fill="#0a196e"/>
<circle cx="337.1" cy="286.8" r="1.62" fill="#0a196f"/>
<circle cx="224.9" cy="227.0" r="1.62" fill="#0a196f"/>
<circle cx="252.9" cy="284.4" r="1.62" fill="#0a196f"/>
<circle cx="365.2" cy="109.1" r="1.62" fill="#0a196f"/>
<circle cx="321.1" cy="100.9" r="1.62" fill="#0a196f"/>
<circle cx="244.9" cy="111.2" r="1.62" fill="#0a196f"/>
<circle cx="361.2" cy="168.2" r="1.62" fill="#0a1a6f"/>
<circle cx="317.1" cy="101.8" r="1.62" fill="#0a1a6f"/>
<circle cx="313.1" cy="102.8" r="1.62" fill="#0a1a6f"/>
<circle cx="361.2" cy="109.6" r="1.62" fill="#0a1a6f"/>
<circle cx="248.9" cy="110.6" r="1.62" fill="#0a1a6f"/>
<circle cx="216.8" cy="210.0" r="1.62" fill="#0a1a6f"/>
<circle cx="373.2" cy="149.7" r="1.62" fill="#0a1a70"/>
<circle cx="228.9" cy="225.8" r="1.62" fill="#0a1a70"/>
<circle cx="273.0" cy="56.9" r="1.62" fill="#0a1a70"/>
<circle cx="309.1" cy="104.0" r="1.62" fill="#0a1a70"/>
<circle cx="333.1" cy="286.8" r="1.62" fill="#0a1a70"/>
<circle cx="357.2" cy="170.7" r="1.62" fill="#0a1a70"/>
<circle cx="208.8" cy="268.3" r="1.62" fill="#0a1a70"/>
<circle cx="269.0" cy="57.2" r="1.62" fill="#0a1a70"/>
<circle cx="256.9" cy="284.3" r="1.62" fill="#0a1a70"/>
<circle cx="305.1" cy="105.3" r="1.62" fill="#0a1a70"/>
<circle cx="252.9" cy="110.0" r="1.62" fill="#0a1a70"/>
<circle cx="265.0" cy="57.5" r="1.62" fill="#0a1a70"/>
<circle cx="357.2" cy="109.0" r="1.62" fill="#0a1a70"/>
<circle cx="301.1" cy="106.5" r="1.62" fill="#0a1a70"/>
<circle cx="261.0" cy="57.9" r="1.62" fill="#0a1a70"/>
<circle cx="353.2" cy="173.1" r="1.62" fill="#0a1a70"/>
<circle cx="256.9" cy="58.2" r="1.62" fill="#0a1a70"/>
<circle cx="232.9" cy="223.8" r="1.62" fill="#0a1a71"/>
<circle cx="256.9" cy="109.2" r="1.62" fill="#0a1a71"/>
<circle cx="297.0" cy="107.7" r="1.62" fill="#0a1a71"/>
<circle cx="369.2" cy="152.3" r="1.62" fill="#0a1a71"/>
<circle cx="252.9" cy="58.6" r="1.62" fill="#0a1a71"/>
<circle cx="329.1" cy="286.8" r="1.62" fill="#0a1a71"/>
<circle cx="353.2" cy="106.8" r="1.62" fill="#0a1b71"/>
<circle cx="293.0" cy="109.7" r="1.62" fill="#0a1b71"/>
<circle cx="248.9" cy="59.1" r="1.62" fill="#0a1b71"/>
<circle cx="349.2" cy="175.5" r="1.62" fill="#0a1b71"/>
<circle cx="220.9" cy="209.2" r="1.62" fill="#0a1b71"/>
<circle cx="261.0" cy="108.4" r="1.62" fill="#0a1b71"/>
<circle cx="244.9" cy="59.6" r="1.62" fill="#0a1b71"/>
<circle cx="261.0" cy="284.2" r="1.62" fill="#0a1b71"/>
<circle cx="289.0" cy="111.9" r="1.62" fill="#0a1b71"/>
<circle cx="240.9" cy="59.8" r="1.62" fill="#0a1b71"/>
<circle cx="236.9" cy="221.5" r="1.62" fill="#0a1b72"/>
<circle cx="285.0" cy="113.1" r="1.62" fill="#0a1b72"/>
<circle cx="236.9" cy="60.1" r="1.62" fill="#0a1b72"/>
<circle cx="349.2" cy="104.8" r="1.62" fill="#0a1b72"/>
<circle cx="265.0" cy="107.7" r="1.62" fill="#0a1b72"/>
<circle cx="345.2" cy="177.9" r="1.62" fill="#0a1b72"/>
<circle cx="365.2" cy="154.8" r="1.62" fill="#0a1b72"/>
<circle cx="325.1" cy="286.8" r="1.62" fill="#0a1b72"/>
<circle cx="232.9" cy="60.4" r="1.62" fill="#0a1b72"/>
<circle cx="281.0" cy="114.4" r="1.62" fill="#0a1b72"/>
<circle cx="228.9" cy="60.7" r="1.62" fill="#0a1b72"/>
<circle cx="208.8" cy="194.7" r="1.62" fill="#0a1b72"/>
<circle cx="277.0" cy="115.9" r="1.62" fill="#0a1b72"/>
<circle cx="269.0" cy="106.9" r="1.62" fill="#0a1b72"/>
<circle cx="224.9" cy="60.8" r="1.62" fill="#0a1b72"/>
<circle cx="345.2" cy="102.0" r="1.62" fill="#0a1b72"/>
<circle cx="341.2" cy="180.1" r="1.62" fill="#0a1b72"/>
<circle cx="273.0" cy="117.7" r="1.62" fill="#0a1b73"/>
<circle cx="240.9" cy="219.1" r="1.62" fill="#0a1b73"/>
<circle cx="265.0" cy="284.1" r="1.62" fill="#0a1b73"/>
<circle cx="220.9" cy="61.1" r="1.62" fill="#0a1b73"/>
<circle cx="224.9" cy="208.4" r="1.62" fill="#0a1c73"/>
<circle cx="216.8" cy="61.8" r="1.62" fill="#0a1c73"/>
<circle cx="216.8" cy="293.7" r="1.62" fill="#0a1c73"/>
<circle cx="273.0" cy="106.2" r="1.62" fill="#0a1c73"/>
<circle cx="269.0" cy="120.5" r="1.62" fill="#0a1c73"/>
<circle cx="321.1" cy="286.7" r="1.62" fill="#0a1c73"/>
<circle cx="361.2" cy="157.2" r="1.62" fill="#0a1c73"/>
<circle cx="212.8" cy="62.3" r="1.62" fill="#0a1c73"/>
<circle cx="212.8" cy="260.6" r="1.62" fill="#0a1c73"/>
<circle cx="265.0" cy="124.2" r="1.62" fill="#0a1c73"/>
<circle cx="341.2" cy="99.7" r="1.62" fill="#0a1c73"/>
<circle cx="337.1" cy="182.3" r="1.62" fill="#0a1c73"/>
<circle cx="208.8" cy="62.3" r="1.62" fill="#0a1c73"/>
<circle cx="277.0" cy="105.5" r="1.62" fill="#0a1c73"/>
<circle cx="204.8" cy="61.7" r="1.62" fill="#0a1c73"/>
<circle cx="261.0" cy="128.6" r="1.62" fill="#0a1c73"/>
<circle cx="244.9" cy="216.9" r="1.62" fill="#0a1c74"/>
<circle cx="337.1" cy="97.5" r="1.62" fill="#0a1c74"/>
<circle cx="317.1" cy="286.7" r="1.62" fill="#0a1c74"/>
<circle cx="357.2" cy="159.6" r="1.62" fill="#0a1c74"/>
<circle cx="228.9" cy="207.6" r="1.62" fill="#0a1c74"/>
<circle cx="248.9" cy="215.1" r="1.62" fill="#0a1d74"/>
<circle cx="333.1" cy="95.4" r="1.62" fill="#0a1d75"/>
<circle cx="313.1" cy="286.7" r="1.62" fill="#0a1d75"/>
<circle cx="353.2" cy="161.8" r="1.62" fill="#0a1d75"/>
<circle cx="329.1" cy="94.1" r="1.62" fill="#0a1d75"/>
<circle cx="252.9" cy="213.4" r="1.62" fill="#0a1d75"/>
<circle cx="256.9" cy="134.1" r="1.62" fill="#0a1d76"/>
<circle cx="232.9" cy="206.7" r="1.62" fill="#0a1d76"/>
<circle cx="325.1" cy="93.1" r="1.62" fill="#0a1d76"/>
<circle cx="309.1" cy="286.7" r="1.62" fill="#0a1d76"/>
<circle cx="349.2" cy="164.0" r="1.62" fill="#0a1e76"/>
<circle cx="216.8" cy="253.4" r="1.62" fill="#0a1e76"/>
<circle cx="256.9" cy="211.7" r="1.62" fill="#0a1e76"/>
<circle cx="212.8" cy="193.1" r="1.62" fill="#0a1e77"/>
<circle cx="321.1" cy="92.7" r="1.62" fill="#0a1e77"/>
<circle cx="305.1" cy="286.7" r="1.62" fill="#0a1e77"/>
<circle cx="261.0" cy="210.1" r="1.62" fill="#0a1e77"/>
<circle cx="345.2" cy="166.2" r="1.62" fill="#0a1e78"/>
<circle cx="317.1" cy="92.9" r="1.62" fill="#0a1e78"/>
<circle cx="236.9" cy="205.7" r="1.62" fill="#0a1e78"/>
<circle cx="220.9" cy="293.5" r="1.62" fill="#0a1e78"/>
<circle cx="301.1" cy="286.7" r="1.62" fill="#0a1f78"/>
<circle cx="313.1" cy="93.7" r="1.62" fill="#0a1f78"/>
<circle cx="265.0" cy="208.6" r="1.62" fill="#0a1f78"/>
<circle cx="341.2" cy="168.2" r="1.62" fill="#0a1f79"/>
<circle cx="252.9" cy="140.2" r="1.62" fill="#0a1f79"/>
<circle cx="309.1" cy="94.9" r="1.62" fill="#0a1f79"/>
<circle cx="333.1" cy="184.5" r="1.62" fill="#0a1f79"/>
<circle cx="240.9" cy="204.6" r="1.62" fill="#0a1f79"/>
<circle cx="269.0" cy="207.2" r="1.62" fill="#0a1f79"/>
<circle cx="297.0" cy="286.8" r="1.62" fill="#0a1f79"/>
<circle cx="220.9" cy="246.3" r="1.62" fill="#0a1f7a"/>
<circle cx="337.1" cy="170.2" r="1.62" fill="#0a1f7a"/>
<circle cx="305.1" cy="95.5" r="1.62" fill="#0a1f7a"/>
<circle cx="273.0" cy="205.7" r="1.62" fill="#0a207a"/>
<circle cx="293.0" cy="286.8" r="1.62" fill="#0a207b"/>
<circle cx="301.1" cy="96.2" r="1.62" fill="#0a207b"/>
<circle cx="333.1" cy="172.2" r="1.62" fill="#0a207b"/>
<circle cx="216.8" cy="191.0" r="1.62" fill="#0a207b"/>
<circle cx="244.9" cy="203.4" r="1.62" fill="#0a207b"/>
<circle cx="277.0" cy="204.1" r="1.62" fill="#0a207b"/>
<circle cx="297.0" cy="96.9" r="1.62" fill="#0a207b"/>
<circle cx="289.0" cy="287.0" r="1.62" fill="#0a207c"/>
<circle cx="248.9" cy="146.1" r="1.62" fill="#0a207c"/>
<circle cx="329.1" cy="174.1" r="1.62" fill="#0a217c"/>
<circle cx="293.0" cy="97.6" r="1.62" fill="#0a217c"/>
<circle cx="281.0" cy="202.5" r="1.62" fill="#0a217c"/>
<circle cx="285.0" cy="287.1" r="1.62" fill="#0a217d"/>
<circle cx="248.9" cy="202.3" r="1.62" fill="#0a217d"/>
<circle cx="289.0" cy="98.3" r="1.62" fill="#0a217d"/>
<circle cx="224.9" cy="293.2" r="1.62" fill="#0a217d"/>
<circle cx="224.9" cy="240.2" r="1.62" fill="#0a217d"/>
<circle cx="325.1" cy="175.9" r="1.62" fill="#0a217d"/>
<circle cx="269.0" cy="283.3" r="1.62" fill="#0a217d"/>
<circle cx="285.0" cy="200.8" r="1.62" fill="#0a217d"/>
<circle cx="285.0" cy="98.9" r="1.62" fill="#0a227e"/>
<circle cx="281.0" cy="287.3" r="1.62" fill="#0a227e"/>
<circle cx="321.1" cy="177.8" r="1.62" fill="#0a227e"/>
<circle cx="289.0" cy="199.1" r="1.62" fill="#0a227e"/>
<circle cx="252.9" cy="201.1" r="1.62" fill="#0a227e"/>
<circle cx="281.0" cy="99.5" r="1.62" fill="#0a227e"/>
<circle cx="244.9" cy="151.9" r="1.62" fill="#0a227f"/>
<circle cx="200.8" cy="280.5" r="1.62" fill="#0a227f"/>
<circle cx="220.9" cy="186.9" r="1.62" fill="#0a2280"/>
<circle cx="317.1" cy="179.5" r="1.62" fill="#0a2280"/>
<circle cx="256.9" cy="199.9" r="1.62" fill="#0a2380"/>
<circle cx="228.9" cy="236.4" r="1.62" fill="#0a2380"/>
<circle cx="313.1" cy="180.9" r="1.62" fill="#0a2381"/>
<circle cx="204.8" cy="278.4" r="1.62" fill="#0a2381"/>
<circle cx="204.8" cy="65.2" r="1.62" fill="#0a2482"/>
<circle cx="309.1" cy="182.3" r="1.62" fill="#0a2482"/>
<circle cx="240.9" cy="158.9" r="1.62" fill="#0a2482"/>
<circle cx="261.0" cy="198.7" r="1.62" fill="#0a2482"/>
<circle cx="293.0" cy="197.6" r="1.62" fill="#0a2482"/>
<circle cx="208.8" cy="276.0" r="1.62" fill="#0a2483"/>
<circle cx="305.1" cy="183.7" r="1.62" fill="#0a2483"/>
<circle cx="265.0" cy="197.3" r="1.62" fill="#0a2583"/>
<circle cx="232.9" cy="232.9" r="1.62" fill="#0a2584"/>
<circle cx="224.9" cy="183.0" r="1.62" fill="#0a2584"/>
<circle cx="301.1" cy="185.1" r="1.62" fill="#0a2584"/>
<circle cx="212.8" cy="274.0" r="1.62" fill="#0a2585"/>
<circle cx="236.9" cy="166.0" r="1.62" fill="#0a2585"/>
<circle cx="297.0" cy="186.5" r="1.62" fill="#0a2585"/>
<circle cx="269.0" cy="195.7" r="1.62" fill="#0a2585"/>
<circle cx="329.1" cy="187.2" r="1.62" fill="#0a2685"/>
<circle cx="293.0" cy="187.9" r="1.62" fill="#0a2686"/>
<circle cx="297.0" cy="196.3" r="1.62" fill="#0a2686"/>
<circle cx="216.8" cy="272.1" r="1.62" fill="#0a2687"/>
<circle cx="273.0" cy="194.3" r="1.62" fill="#0a2687"/>
<circle cx="236.9" cy="231.3" r="1.62" fill="#0a2787"/>
<circle cx="289.0" cy="189.2" r="1.62" fill="#0a2787"/>
<circle cx="232.9" cy="172.6" r="1.62" fill="#0a2788"/>
<circle cx="285.0" cy="190.3" r="1.62" fill="#0a2788"/>
<circle cx="228.9" cy="178.5" r="1.62" fill="#0a2788"/>
<circle cx="277.0" cy="192.8" r="1.62" fill="#0a2788"/>
<circle cx="220.9" cy="269.6" r="1.62" fill="#0a2789"/>
<circle cx="281.0" cy="191.4" r="1.62" fill="#0a288a"/>
<circle cx="240.9" cy="230.0" r="1.62" fill="#0a288a"/>
<circle cx="224.9" cy="267.2" r="1.62" fill="#0a288a"/>
<circle cx="301.1" cy="195.2" r="1.62" fill="#0a298b"/>
<circle cx="228.9" cy="265.2" r="1.62" fill="#0a298c"/>
<circle cx="244.9" cy="228.8" r="1.62" fill="#0a298c"/>
<circle cx="208.8" cy="63.2" r="1.62" fill="#0a2a8d"/>
<circle cx="232.9" cy="262.7" r="1.62" fill="#0a2a8e"/>
<circle cx="248.9" cy="228.0" r="1.62" fill="#0a2b8f"/>
<circle cx="305.1" cy="194.0" r="1.62" fill="#0a2b8f"/>
<circle cx="277.0" cy="100.2" r="1.62" fill="#0a2b90"/>
<circle cx="236.9" cy="260.5" r="1.62" fill="#0a2b90"/>
<circle cx="252.9" cy="227.2" r="1.62" fill="#0a2c91"/>
<circle cx="325.1" cy="190.0" r="1.62" fill="#0a2c91"/>
<circle cx="240.9" cy="258.5" r="1.62" fill="#0a2c92"/>
<circle cx="256.9" cy="226.2" r="1.62" fill="#0a2d93"/>
<circle cx="309.1" cy="193.4" r="1.62" fill="#0a2d94"/>
<circle cx="244.9" cy="256.6" r="1.62" fill="#0a2e94"/>
<circle cx="301.1" cy="238.0" r="1.62" fill="#0a2e95"/>
<circle cx="261.0" cy="225.2" r="1.62" fill="#0a2e95"/>
<circle cx="248.9" cy="254.8" r="1.62" fill="#0a2f96"/>
<circle cx="297.0" cy="238.1" r="1.62" fill="#0a2f96"/>
<circle cx="305.1" cy="238.1" r="1.62" fill="#0a2f96"/>
<circle cx="309.1" cy="238.1" r="1.62" fill="#0a2f97"/>
<circle cx="293.0" cy="238.3" r="1.62" fill="#0a2f98"/>
<circle cx="265.0" cy="223.9" r="1.62" fill="#0a2f98"/>
<circle cx="252.9" cy="253.0" r="1.62" fill="#0a3098"/>
<circle cx="313.1" cy="192.8" r="1.62" fill="#0a3098"/>
<circle cx="313.1" cy="238.2" r="1.62" fill="#0a3098"/>
<circle cx="289.0" cy="238.5" r="1.62" fill="#0a3099"/>
<circle cx="212.8" cy="63.8" r="1.62" fill="#0a3099"/>
<circle cx="317.1" cy="238.3" r="1.62" fill="#0a319a"/>
<circle cx="256.9" cy="250.8" r="1.62" fill="#0a319a"/>
<circle cx="269.0" cy="222.4" r="1.62" fill="#0a319a"/>
<circle cx="285.0" cy="238.8" r="1.62" fill="#0a319a"/>
<circle cx="321.1" cy="238.3" r="1.62" fill="#0a319b"/>
<circle cx="261.0" cy="248.7" r="1.62" fill="#0a329c"/>
<circle cx="325.1" cy="238.4" r="1.62" fill="#0a329c"/>
<circle cx="281.0" cy="239.5" r="1.62" fill="#0a329c"/>
<circle cx="273.0" cy="220.9" r="1.62" fill="#0a329c"/>
<circle cx="317.1" cy="192.2" r="1.62" fill="#0a329d"/>
<circle cx="329.1" cy="238.5" r="1.62" fill="#0a329d"/>
<circle cx="321.1" cy="191.5" r="1.62" fill="#0a329d"/>
<circle cx="277.0" cy="287.5" r="1.62" fill="#0a339d"/>
<circle cx="277.0" cy="240.4" r="1.62" fill="#0a339d"/>
<circle cx="265.0" cy="246.5" r="1.62" fill="#0a339e"/>
<circle cx="333.1" cy="238.6" r="1.62" fill="#0a339e"/>
<circle cx="277.0" cy="219.3" r="1.62" fill="#0a339e"/>
<circle cx="273.0" cy="242.3" r="1.62" fill="#0a339f"/>
<circle cx="337.1" cy="238.7" r="1.62" fill="#0a349f"/>
<circle cx="269.0" cy="244.3" r="1.62" fill="#0a349f"/>
<circle cx="341.2" cy="238.7" r="1.62" fill="#0a34a0"/>
<circle cx="281.0" cy="217.7" r="1.62" fill="#0a35a1"/>
<circle cx="216.8" cy="64.7" r="1.62" fill="#0a35a1"/>
<circle cx="345.2" cy="238.8" r="1.62" fill="#0a36a2"/>
<circle cx="220.9" cy="66.7" r="1.62" fill="#0a37a3"/>
<circle cx="349.2" cy="238.9" r="1.62" fill="#0a37a4"/>
<circle cx="285.0" cy="215.7" r="1.62" fill="#0a37a4"/>
<circle cx="353.2" cy="239.0" r="1.62" fill="#0a38a5"/>
<circle cx="224.9" cy="68.6" r="1.62" fill="#0a39a6"/>
<circle cx="357.2" cy="239.1" r="1.62" fill="#0a3aa7"/>
<circle cx="289.0" cy="213.8" r="1.62" fill="#0a3aa7"/>
<circle cx="228.9" cy="70.6" r="1.62" fill="#0b3ba8"/>
<circle cx="361.2" cy="239.1" r="1.62" fill="#0b3ba8"/>
<circle cx="273.0" cy="98.2" r="1.62" fill="#0b3ba9"/>
<circle cx="200.8" cy="59.5" r="1.62" fill="#0b3ca9"/>
<circle cx="365.2" cy="239.2" r="1.62" fill="#0b3caa"/>
<circle cx="281.0" cy="106.5" r="1.62" fill="#0b3daa"/>
<circle cx="232.9" cy="72.9" r="1.62" fill="#0b3daa"/>
<circle cx="293.0" cy="211.6" r="1.62" fill="#0b3daa"/>
<circle cx="369.2" cy="239.3" r="1.62" fill="#0b3eab"/>
<circle cx="236.9" cy="75.4" r="1.62" fill="#0b3eac"/>
<circle cx="373.2" cy="239.4" r="1.62" fill="#0b3fad"/>
<circle cx="297.0" cy="209.3" r="1.62" fill="#0b3fad"/>
<circle cx="273.0" cy="282.4" r="1.62" fill="#0b40ae"/>
<circle cx="377.2" cy="239.4" r="1.62" fill="#0b40ae"/>
<circle cx="240.9" cy="77.9" r="1.62" fill="#0b40af"/>
<circle cx="244.9" cy="80.6" r="1.62" fill="#0b42b1"/>
<circle cx="301.1" cy="207.1" r="1.62" fill="#0b43b1"/>
<circle cx="248.9" cy="83.3" r="1.62" fill="#0b44b3"/>
<circle cx="252.9" cy="85.9" r="1.62" fill="#0b46b5"/>
<circle cx="256.9" cy="88.4" r="1.62" fill="#0c48b8"/>
<circle cx="305.1" cy="204.9" r="1.62" fill="#0c49b9"/>
<circle cx="261.0" cy="90.8" r="1.62" fill="#0c4aba"/>
<circle cx="265.0" cy="93.3" r="1.62" fill="#0c4cbc"/>
<circle cx="269.0" cy="95.7" r="1.62" fill="#0c4ebe"/>
<circle cx="321.1" cy="120.8" r="1.62" fill="#0c4fbf"/>
<circle cx="325.1" cy="122.0" r="1.62" fill="#0c4fbf"/>
<circle cx="329.1" cy="123.1" r="1.62" fill="#0c4fbf"/>
<circle cx="333.1" cy="124.3" r="1.62" fill="#0c4fbf"/>
<circle cx="337.1" cy="125.1" r="1.62" fill="#0c4fbf"/>
<circle cx="341.2" cy="126.0" r="1.62" fill="#0c4fbf"/>
<circle cx="345.2" cy="126.8" r="1.62" fill="#0c4fbf"/>
<circle cx="349.2" cy="127.7" r="1.62" fill="#0c4fbf"/>
<circle cx="353.2" cy="128.4" r="1.62" fill="#0c4fbf"/>
<circle cx="357.2" cy="128.7" r="1.62" fill="#0c4fbf"/>
<circle cx="309.1" cy="202.9" r="1.62" fill="#0c50c0"/>
<circle cx="381.3" cy="239.5" r="1.62" fill="#0c54c5"/>
<circle cx="313.1" cy="200.9" r="1.62" fill="#0d56c8"/>
<circle cx="317.1" cy="199.1" r="1.62" fill="#0d5ccf"/>
<circle cx="361.2" cy="128.9" r="1.62" fill="#0d5dd0"/>
<circle cx="317.1" cy="119.4" r="1.62" fill="#0d5fd2"/>
<circle cx="321.1" cy="197.4" r="1.62" fill="#0e63d7"/>
<circle cx="325.1" cy="195.9" r="1.62" fill="#0e69de"/>
<circle cx="313.1" cy="117.8" r="1.62" fill="#0f74e0"/>
<circle cx="277.0" cy="281.5" r="1.62" fill="#0f77e1"/>
<circle cx="309.1" cy="116.3" r="1.62" fill="#1187e4"/>
<circle cx="285.0" cy="108.9" r="1.62" fill="#118de6"/>
<circle cx="365.2" cy="129.1" r="1.62" fill="#118de6"/>
<circle cx="329.1" cy="195.1" r="1.62" fill="#1191e7"/>
<circle cx="385.3" cy="239.6" r="1.62" fill="#1191e7"/>
<circle cx="228.9" cy="292.8" r="1.62" fill="#13a1ea"/>
<circle cx="305.1" cy="115.1" r="1.62" fill="#14a9ec"/>
<circle cx="273.0" cy="287.8" r="1.62" fill="#14acec"/>
<circle cx="369.2" cy="129.4" r="1.62" fill="#14b2ee"/>
<circle cx="281.0" cy="280.6" r="1.62" fill="#15b5ee"/>
<circle cx="373.2" cy="129.5" r="1.62" fill="#15c0f1"/>
<circle cx="333.1" cy="195.7" r="1.62" fill="#16c2f1"/>
<circle cx="289.0" cy="110.3" r="1.62" fill="#16c6f2"/>
<circle cx="293.0" cy="111.6" r="1.62" fill="#16c6f2"/>
<circle cx="297.0" cy="112.8" r="1.62" fill="#16c6f2"/>
<circle cx="301.1" cy="113.9" r="1.62" fill="#16c6f2"/>
<circle cx="377.2" cy="129.6" r="1.62" fill="#16c6f2"/>
<circle cx="381.3" cy="129.6" r="1.62" fill="#16c6f2"/>
<circle cx="385.3" cy="129.7" r="1.62" fill="#16c6f2"/>
<circle cx="389.3" cy="129.7" r="1.62" fill="#16c6f2"/>
<circle cx="393.3" cy="129.7" r="1.62" fill="#16c6f2"/>
<circle cx="397.3" cy="129.8" r="1.62" fill="#16c6f2"/>
<circle cx="269.0" cy="288.1" r="1.62" fill="#21cbe6"/>
<circle cx="285.0" cy="279.8" r="1.62" fill="#22cce5"/>
<circle cx="397.3" cy="216.3" r="1.62" fill="#24cde2"/>
<circle cx="232.9" cy="292.3" r="1.62" fill="#26cee1"/>
<circle cx="393.3" cy="216.0" r="1.62" fill="#27cfdf"/>
<circle cx="236.9" cy="291.8" r="1.62" fill="#28cfde"/>
<circle cx="389.3" cy="215.4" r="1.62" fill="#2ad0dc"/>
<circle cx="240.9" cy="291.3" r="1.62" fill="#2bd0dc"/>
<circle cx="244.9" cy="290.8" r="1.62" fill="#2dd2d9"/>
<circle cx="385.3" cy="214.2" r="1.62" fill="#2dd2d9"/>
<circle cx="265.0" cy="288.5" r="1.62" fill="#2ed2d7"/>
<circle cx="248.9" cy="290.2" r="1.62" fill="#30d3d6"/>
<circle cx="381.3" cy="213.0" r="1.62" fill="#31d3d5"/>
<circle cx="252.9" cy="289.7" r="1.62" fill="#32d4d3"/>
<circle cx="289.0" cy="279.0" r="1.62" fill="#32d4d3"/>
<circle cx="377.2" cy="211.5" r="1.62" fill="#34d5d2"/>
<circle cx="256.9" cy="289.3" r="1.62" fill="#35d5d0"/>
<circle cx="373.2" cy="209.8" r="1.62" fill="#37d6ce"/>
<circle cx="261.0" cy="288.9" r="1.62" fill="#38d7ce"/>
<circle cx="369.2" cy="208.4" r="1.62" fill="#3ad8cb"/>
<circle cx="365.2" cy="207.0" r="1.62" fill="#3ddac8"/>
<circle cx="337.1" cy="197.7" r="1.62" fill="#3fdbc5"/>
<circle cx="389.3" cy="239.6" r="1.62" fill="#40dbc4"/>
<circle cx="361.2" cy="205.6" r="1.62" fill="#40dbc4"/>
<circle cx="293.0" cy="277.9" r="1.62" fill="#42dcc3"/>
<circle cx="357.2" cy="204.2" r="1.62" fill="#43ddc1"/>
<circle cx="341.2" cy="199.0" r="1.62" fill="#46debe"/>
<circle cx="353.2" cy="202.7" r="1.62" fill="#47debd"/>
<circle cx="349.2" cy="201.5" r="1.62" fill="#4ddeb5"/>
<circle cx="297.0" cy="276.7" r="1.62" fill="#51deb0"/>
<circle cx="345.2" cy="200.3" r="1.62" fill="#53dead"/>
<circle cx="301.1" cy="275.5" r="1.62" fill="#64df98"/>
<circle cx="305.1" cy="274.1" r="1.62" fill="#73df86"/>
<circle cx="309.1" cy="272.8" r="1.62" fill="#81df74"/>
<circle cx="313.1" cy="271.4" r="1.62" fill="#8de065"/>
<circle cx="317.1" cy="269.7" r="1.62" fill="#95e05b"/>
<circle cx="321.1" cy="267.9" r="1.62" fill="#9ee154"/>
<circle cx="325.1" cy="266.1" r="1.62" fill="#a7e24e"/>
<circle cx="329.1" cy="264.3" r="1.62" fill="#afe348"/>
<circle cx="333.1" cy="262.5" r="1.62" fill="#b8e442"/>
<circle cx="337.1" cy="260.7" r="1.62" fill="#c1e53b"/>
<circle cx="341.2" cy="258.9" r="1.62" fill="#cae535"/>
<circle cx="345.2" cy="257.1" r="1.62" fill="#d3e62e"/>
<circle cx="349.2" cy="255.3" r="1.62" fill="#dce728"/>
<circle cx="353.2" cy="253.6" r="1.62" fill="#e5e821"/>
<circle cx="393.3" cy="239.7" r="1.62" fill="#ebe91d"/>
<circle cx="357.2" cy="252.2" r="1.62" fill="#ebe91c"/>
<circle cx="361.2" cy="250.8" r="1.62" fill="#f1ea18"/>
<circle cx="365.2" cy="249.4" r="1.62" fill="#f4e816"/>
<circle cx="369.2" cy="248.0" r="1.62" fill="#f5e415"/>
<circle cx="373.2" cy="246.5" r="1.62" fill="#f6e014"/>
<circle cx="393.3" cy="240.4" r="1.62" fill="#f6df14"/>
<circle cx="377.2" cy="245.1" r="1.62" fill="#f6dc14"/>
<circle cx="381.3" cy="243.7" r="1.62" fill="#f7db14"/>
<circle cx="385.3" cy="242.6" r="1.62" fill="#f7da13"/>
<circle cx="389.3" cy="241.4" r="1.62" fill="#f7d913"/>
<circle cx="397.3" cy="239.9" r="1.62" fill="#f83c1b"/>
<circle cx="397.3" cy="239.7" r="1.62" fill="#f51f1e"/>
<line x1="200.7" y1="293.9" x2="397.2" y2="154.2" stroke="#111" stroke-width="1.9"/>
<g font-family="'Liberation Serif', serif" fill="#222" font-size="16.4" stroke="#222" stroke-width="0.25">
<text x="185.9" y="299.8" textLength="8.2" lengthAdjust="spacing">0</text>
<text x="165.6" y="240.4" textLength="28.5" lengthAdjust="spacing">500</text>
<text x="155.4" y="180.9" textLength="38.6" lengthAdjust="spacing">1000</text>
<text x="155.4" y="121.5" textLength="38.6" lengthAdjust="spacing">1500</text>
<text x="155.4" y="62.1" textLength="38.6" lengthAdjust="spacing">2000</text>
<text x="201.1" y="317.8" text-anchor="middle">0</text>
<text x="240.4" y="317.8" text-anchor="middle">1</text>
<text x="279.7" y="317.8" text-anchor="middle">2</text>
<text x="319.0" y="317.8" text-anchor="middle">3</text>
<text x="358.3" y="317.8" text-anchor="middle">4</text>
<text x="397.6" y="317.8" text-anchor="middle">5</text>
<text transform="translate(149.1,170.6) rotate(-90)" text-anchor="middle" font-size="16.2" textLength="121.4" lengthAdjust="spacingAndGlyphs">Frequency (kHz)</text>
<text x="221.0" y="339.3" font-size="16.5" textLength="161.2" lengthAdjust="spacingAndGlyphs">Wave vector q (mm<tspan font-size="12" dy="-10.8">−</tspan><tspan font-size="12.5" dy="5.9" dx="-1">1</tspan><tspan dy="4.9">)</tspan></text>
</g>
<rect x="430.4" y="128" width="107.0" height="65.0" fill="#d3d3d3"/>
<rect x="430.4" y="216.4" width="107.0" height="22.3" fill="#d3d3d3"/>
<polyline points="428.1,56.9 428.6,60.5 429.6,64.6 430.8,67.7 432.0,70.6 433.4,73.0 434.6,75.1 435.1,77.0 434.1,78.7 433.6,80.1 434.1,81.8 433.4,83.7 432.7,86.8 432.2,92.8 432.2,98.8 432.7,102.3 434.1,105.9 436.0,108.1 438.9,110.0 443.7,111.7 448.5,112.6 454.4,113.3 457.5,113.6 454.4,114.1 448.5,115.0 443.2,115.7 438.9,116.7 435.3,118.1 432.9,119.6 431.0,121.2 429.8,122.9 428.9,125.8 428.4,129.8 428.1,133.4 428.0,191.8 428.6,193.6 431.4,194.5 442.7,196.4 454.1,197.5 465.5,198.6 476.8,199.8 480.9,200.7 481.8,201.6 479.5,203.0 483.6,203.6 495.0,205.5 499.5,206.6 500.0,207.3 496.1,208.2 485.9,208.6 478.0,209.1 473.9,210.2 476.8,211.4 485.9,211.8 497.3,212.3 506.4,212.7 507.7,213.2 501.8,213.9 488.2,214.1 465.5,214.3 442.7,214.8 433.6,215.5 429.5,217.3 428.2,220.2 428.0,223.6 428.0,236.1 429.1,237.7 434.8,238.0 437.0,238.6 433.6,239.3 437.0,239.1 465.5,239.3 507.5,239.5 520.0,242.5 510.9,243.6 495.0,244.5 492.7,245.7 506.4,246.4 522.3,247.5 523.4,249.1 510.9,250.5 508.6,252.0 520.0,253.6 526.8,255.9 517.7,258.2 516.6,259.5 524.5,261.8 525.7,263.4 518.9,265.7 516.6,267.3 523.4,269.5 524.5,270.9 517.7,272.5 516.6,274.1 521.1,276.4 522.3,277.7 516.6,279.3 515.5,280.5 520.0,281.6 526.8,282.5 488.2,282.7 457.5,282.7 433.6,283.2 429.5,284.5 429.5,286.1 433.6,287.3 465.5,287.7 510.9,288.0 525.7,288.4 528.0,289.5 528.6,291.8 528.0,293.6" fill="none" stroke="#f50f0f" stroke-width="1.75" stroke-linejoin="round"/>
<g stroke="#3a3233" stroke-width="1.3" fill="none">
<line x1="427.8" y1="51.5" x2="427.8" y2="298.9"/>
<line x1="538.5" y1="56.5" x2="538.5" y2="293.4"/>
<line x1="420.8" y1="56.5" x2="545.0" y2="56.5"/>
<line x1="420.8" y1="293.4" x2="545.0" y2="293.4"/>
<line x1="477.9" y1="51.5" x2="477.9" y2="56.5"/>
<line x1="477.9" y1="293.4" x2="477.9" y2="298.9"/>
<line x1="528.1" y1="51.5" x2="528.1" y2="56.5"/>
<line x1="528.1" y1="293.4" x2="528.1" y2="298.9"/>
<line x1="420.8" y1="234.2" x2="427.8" y2="234.2"/>
<line x1="538.5" y1="234.2" x2="545.0" y2="234.2"/>
<line x1="420.8" y1="174.9" x2="427.8" y2="174.9"/>
<line x1="538.5" y1="174.9" x2="545.0" y2="174.9"/>
<line x1="420.8" y1="115.7" x2="427.8" y2="115.7"/>
<line x1="538.5" y1="115.7" x2="545.0" y2="115.7"/>
</g>
<g font-family="'Liberation Serif', serif" fill="#222" font-size="15.2" stroke="#222" stroke-width="0.25">
<text transform="translate(422.5,302) rotate(90)" textLength="8.3" lengthAdjust="spacingAndGlyphs">0</text>
<text transform="translate(472.6,302) rotate(90)" textLength="20" lengthAdjust="spacingAndGlyphs">0.5</text>
<text transform="translate(522.8,302) rotate(90)" textLength="8.3" lengthAdjust="spacingAndGlyphs">1</text>
<text x="432.8" y="340.2" font-size="16.5" textLength="98.6" lengthAdjust="spacingAndGlyphs">Transmission</text>
</g>
</svg>
</body></html>
